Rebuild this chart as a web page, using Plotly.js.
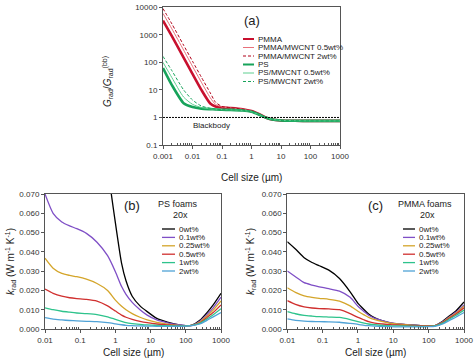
<!DOCTYPE html>
<html><head><meta charset="utf-8">
<script src="https://cdn.plot.ly/plotly-3.0.1.min.js"></script>
<style>html,body{margin:0;padding:0;background:#fff}#plot{width:474px;height:360px}</style>
</head><body><div id="plot"></div>
<script>
// ---------- Panel (a) data ----------
const xA = [0.001,0.002,0.005,0.01,0.02,0.04,0.06,0.1,0.2,0.5,1,2,3,5,10,30,100,1000];
const pmma      = [3300,900,150,38,10,3.2,2.5,2.3,2.2,2.0,1.7,1.25,1.0,0.85,0.78,0.76,0.75,0.75];
const pmma05    = [6000,1650,280,72,19,5.2,3.0,2.4,2.2,2.0,1.7,1.25,1.0,0.85,0.78,0.76,0.75,0.75];
const pmma2     = [9000,2500,420,110,29,7.8,3.6,2.5,2.25,2.0,1.7,1.25,1.0,0.85,0.78,0.76,0.75,0.75];
const ps        = [62,15,3.3,2.4,2.1,2.0,1.95,1.9,1.88,1.8,1.6,1.2,1.0,0.85,0.78,0.76,0.75,0.75];
const ps05      = [100,28,5.5,3.0,2.3,2.05,1.98,1.92,1.88,1.8,1.6,1.2,1.0,0.85,0.78,0.76,0.75,0.75];
const ps2       = [165,50,10,4.3,2.6,2.15,2.0,1.93,1.89,1.8,1.6,1.2,1.0,0.85,0.78,0.76,0.75,0.75];
const bbX = [0.001,1000];
const bbY = [1,1];
const namesA = ['PMMA','PMMA/MWCNT 0.5wt%','PMMA/MWCNT 2wt%','PS','PS/MWCNT 0.5wt%','PS/MWCNT 2wt%'];

// ---------- Panels (b),(c) data ----------
const xK = [0.01,0.017,0.03,0.05,0.08,0.15,0.3,0.6,1,1.5,2,3,5,8,15,30,60,100,150,250,400,600,1000];
const psK0   = [0.60,0.50,0.42,0.35,0.30,0.22,0.15,0.085,0.055,0.034,0.025,0.017,0.012,0.0090,0.0055,0.0036,0.0022,0.0017,0.0020,0.0045,0.0085,0.0125,0.0185];
const psK01  = [0.070,0.060,0.0555,0.0535,0.052,0.0496,0.045,0.038,0.0297,0.022,0.018,0.0138,0.0100,0.0072,0.0047,0.0032,0.0022,0.0018,0.0019,0.0040,0.0075,0.0110,0.0165];
const psK025 = [0.0367,0.0315,0.0288,0.0278,0.0271,0.0258,0.0236,0.0200,0.0150,0.0118,0.0100,0.0080,0.0061,0.0047,0.0034,0.0025,0.0019,0.0017,0.0019,0.0036,0.0068,0.0098,0.0145];
const psK05  = [0.0207,0.0185,0.0170,0.0162,0.0158,0.0154,0.0145,0.0120,0.0093,0.0072,0.0061,0.0050,0.0040,0.0033,0.0026,0.0021,0.0018,0.0017,0.0019,0.0032,0.0060,0.0085,0.0125];
const psK1   = [0.0110,0.0100,0.0092,0.0087,0.0083,0.0080,0.0075,0.0063,0.0050,0.0040,0.0033,0.0028,0.0024,0.0021,0.0019,0.0017,0.0016,0.0016,0.0019,0.0029,0.0052,0.0074,0.0105];
const psK2   = [0.0059,0.0051,0.0047,0.0044,0.0042,0.0040,0.0038,0.0033,0.0027,0.0022,0.0019,0.0017,0.0016,0.0015,0.0014,0.0014,0.0014,0.0015,0.0018,0.0026,0.0045,0.0063,0.0085];

const pmK0   = [0.0453,0.0415,0.0370,0.0345,0.0328,0.0305,0.0262,0.0193,0.0133,0.0100,0.0078,0.0058,0.0042,0.0032,0.0025,0.0021,0.0018,0.0017,0.0018,0.0040,0.0070,0.0095,0.0140];
const pmK01  = [0.0301,0.0271,0.0240,0.0228,0.0219,0.0209,0.0196,0.0164,0.0118,0.0090,0.0071,0.0055,0.0043,0.0033,0.0026,0.0021,0.0018,0.0017,0.0018,0.0037,0.0065,0.0088,0.0125];
const pmK025 = [0.0214,0.0190,0.0172,0.0164,0.0159,0.0154,0.0145,0.0120,0.0092,0.0073,0.0060,0.0048,0.0038,0.0031,0.0025,0.0020,0.0018,0.0017,0.0018,0.0035,0.0062,0.0083,0.0118];
const pmK05  = [0.0147,0.0128,0.0115,0.0109,0.0106,0.0104,0.0100,0.0080,0.0060,0.0047,0.0038,0.0031,0.0026,0.0023,0.0020,0.0018,0.0017,0.0016,0.0017,0.0033,0.0058,0.0078,0.0110];
const pmK1   = [0.0090,0.0079,0.0071,0.0067,0.0064,0.0062,0.0060,0.0049,0.0038,0.0030,0.0026,0.0022,0.0019,0.0017,0.0016,0.0015,0.0014,0.0014,0.0016,0.0030,0.0053,0.0071,0.0098];
const pmK2   = [0.0052,0.0045,0.0041,0.0039,0.0038,0.0037,0.0035,0.0029,0.0024,0.0019,0.0017,0.0015,0.0013,0.0012,0.0011,0.0011,0.0011,0.0012,0.0014,0.0026,0.0046,0.0062,0.0085];
const namesK = ['0wt%','0.1wt%','0.25wt%','0.5wt%','1wt%','2wt%'];

const xTickA = [0.001,0.01,0.1,1,10,100,1000];
const xTickAText = ['0.001','0.01','0.1','1','10','100','1000'];
const yTickA = [0.1,1,10,100,1000,10000];
const yTickAText = ['0.1','1','10','100','1000','10000'];
const xTickK = [0.01,0.1,1,10,100,1000];
const xTickKText = ['0.01','0.1','1','10','100','1000'];

// ---------- styles ----------
const W = 474, H = 360;
const fx = p => p / W, fy = p => 1 - p / H;
const FONT = 'Liberation Sans, Arial, sans-serif';
const stylesA = [
  {color:'#c8102e', width:2.6, dash:'solid'},
  {color:'#e8707a', width:1, dash:'solid'},
  {color:'#b00018', width:1, dash:'3px,2px'},
  {color:'#17a35a', width:2.6, dash:'solid'},
  {color:'#5fcf90', width:1, dash:'solid'},
  {color:'#17a35a', width:1, dash:'3px,2px'}
];
const colorsK = ['#000000','#7f4fc6','#d4a52a','#d0302f','#2ec38c','#4fa2d6'];

const seriesA = [pmma, pmma05, pmma2, ps, ps05, ps2];
const seriesB = [psK0, psK01, psK025, psK05, psK1, psK2];
const seriesC = [pmK0, pmK01, pmK025, pmK05, pmK1, pmK2];

const traces = [];
seriesA.forEach((y,i) => traces.push({x:xA, y:y, xaxis:'x', yaxis:'y', mode:'lines', name:namesA[i], line:{color:stylesA[i].color, width:stylesA[i].width, dash:stylesA[i].dash, shape:'spline', smoothing:0.6}}));
traces.push({x:bbX, y:bbY, xaxis:'x', yaxis:'y', mode:'lines', name:'Blackbody', line:{color:'#000', width:1, dash:'2px,1px'}});
seriesB.forEach((y,i) => traces.push({x:xK, y:y, xaxis:'x2', yaxis:'y2', mode:'lines', name:namesK[i], line:{color:colorsK[i], width:1.3, shape:'spline', smoothing:0.6}}));
seriesC.forEach((y,i) => traces.push({x:xK, y:y, xaxis:'x3', yaxis:'y3', mode:'lines', name:namesK[i], line:{color:colorsK[i], width:1.3, shape:'spline', smoothing:0.6}}));

function minorTicks(lo, hi){ const v=[]; for(let e=lo;e<hi;e++){ for(let m=2;m<=9;m++) v.push(m*Math.pow(10,e)); } return v; }

const axBase = {showline:true, mirror:true, linecolor:'#555', linewidth:1, showgrid:false, zeroline:false,
  ticks:'outside', ticklen:3, tickcolor:'#555', tickfont:{family:FONT, size:8, color:'#333'}};

const layout = {
  width:W, height:H, margin:{l:0,r:0,t:0,b:0}, paper_bgcolor:'#fff', plot_bgcolor:'#fff',
  showlegend:false, font:{family:FONT, color:'#333'},
  xaxis: Object.assign({}, axBase, {type:'log', domain:[fx(163), fx(340)], anchor:'y', range:[-3,3], tickmode:'array', tickvals:xTickA, ticktext:xTickAText,
     minor:{tickmode:'array', tickvals:minorTicks(-3,3), ticks:'inside', ticklen:2, tickcolor:'#555'}}),
  yaxis: Object.assign({}, axBase, {type:'log', domain:[fy(145), fy(7.3)], anchor:'x', range:[-1,4], tickmode:'array', tickvals:yTickA, ticktext:yTickAText}),
  xaxis2: Object.assign({}, axBase, {type:'log', domain:[fx(45), fx(221)], anchor:'y2', range:[-2,3], tickmode:'array', tickvals:xTickK, ticktext:xTickKText,
     minor:{tickmode:'array', tickvals:minorTicks(-2,3), ticks:'inside', ticklen:2, tickcolor:'#555'}}),
  yaxis2: Object.assign({}, axBase, {domain:[fy(329), fy(194)], anchor:'x2', range:[0,0.07], dtick:0.01, tick0:0, tickformat:'.3f'}),
  xaxis3: Object.assign({}, axBase, {type:'log', domain:[fx(287.3), fx(464)], anchor:'y3', range:[-2,3], tickmode:'array', tickvals:xTickK, ticktext:xTickKText,
     minor:{tickmode:'array', tickvals:minorTicks(-2,3), ticks:'inside', ticklen:2, tickcolor:'#555'}}),
  yaxis3: Object.assign({}, axBase, {domain:[fy(329), fy(194)], anchor:'x3', range:[0,0.07], dtick:0.01, tick0:0, tickformat:'.3f'}),
  shapes:[], annotations:[]
};

function ann(text, xp, yp, size, opts){
  layout.annotations.push(Object.assign({text:text, xref:'paper', yref:'paper', x:fx(xp), y:fy(yp), showarrow:false,
    xanchor:'center', yanchor:'middle', font:{family:FONT, size:size, color:'#222'}}, opts||{}));
}
// axis titles
ann('<i>G</i><sub>rad</sub>/<i>G</i><sub>rad</sub><sup>(bb)</sup>', 108, 82, 10, {textangle:-90});
ann('Cell size (µm)', 251.5, 177, 10);
ann('<i>k</i><sub>rad</sub> (W m<sup>-1</sup> K<sup>-1</sup>)', 10, 262, 10, {textangle:-90});
ann('Cell size (µm)', 133, 352, 10);
ann('<i>k</i><sub>rad</sub> (W m<sup>-1</sup> K<sup>-1</sup>)', 250, 262, 10, {textangle:-90});
ann('Cell size (µm)', 375.6, 352, 10);
// panel labels
ann('(a)', 251.5, 20, 13);
ann('Blackbody', 191, 126, 8, {xanchor:'left'});
ann('(b)', 132, 205, 13);
ann('PS foams', 178, 204, 9);
ann('20x', 180, 215, 9);
ann('(c)', 375, 205, 13);
ann('PMMA foams', 425, 204, 9);
ann('20x', 427, 215, 9);

// manual legends
function legend(names, styles, x0, x1, yTop, dy){
  names.forEach((n,i) => {
    const y = yTop + i*dy;
    layout.shapes.push({type:'line', xref:'paper', yref:'paper', x0:fx(x0), x1:fx(x1), y0:fy(y), y1:fy(y),
      line:{color:styles[i].color, width:Math.min(styles[i].width,2), dash:styles[i].dash||'solid'}});
    ann(n, x1+1.5, y, 8, {xanchor:'left'});
  });
}
legend(namesA, stylesA, 243, 254, 39, 8.5);
const stK = colorsK.map(c => ({color:c, width:1.3}));
legend(namesK, stK, 162, 175, 229, 8.4);
legend(namesK, stK, 403, 415, 229, 8.4);

Plotly.newPlot('plot', traces, layout, {staticPlot:true, displayModeBar:false});
</script></body></html>
